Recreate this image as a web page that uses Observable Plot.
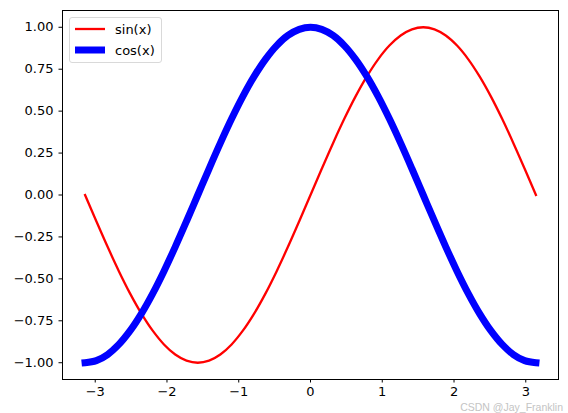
<!DOCTYPE html>
<html>
<head>
<meta charset="utf-8">
<script src="https://cdn.jsdelivr.net/npm/d3@7"></script>
<script src="https://cdn.jsdelivr.net/npm/@observablehq/plot@0.6"></script>
<style>
  html, body { margin: 0; padding: 0; background: #fff; }
  #wrap { position: relative; width: 568px; height: 413px; font-family: "DejaVu Sans", sans-serif; }
  #legend { position: absolute; left: 69px; top: 17px; width: 93px; height: 46px; border: 1px solid #d9d9d9; border-radius: 3px; background: rgba(255,255,255,0.8); box-sizing: border-box; font-size: 13px; color: #000; }
  .row { position: absolute; left: 0; display: flex; align-items: center; height: 16px; }
  .row svg { margin-left: 3px; }
  .row span { margin-left: 8px; }
  #wm { position: absolute; right: 5px; top: 402px; font-size: 10.5px; line-height: 1; color: #c4c4c4; font-family: "Liberation Sans", Arial, sans-serif; }
</style>
</head>
<body>
<div id="wrap"></div>
<script>
const xs = [-3.1416,-2.9845,-2.8274,-2.6704,-2.5133,-2.3562,-2.1991,-2.0420,-1.8850,-1.7279,-1.5708,-1.4137,-1.2566,-1.0996,-0.9425,-0.7854,-0.6283,-0.4712,-0.3142,-0.1571,0,0.1571,0.3142,0.4712,0.6283,0.7854,0.9425,1.0996,1.2566,1.4137,1.5708,1.7279,1.8850,2.0420,2.1991,2.3562,2.5133,2.6704,2.8274,2.9845,3.1416];
const sinValues = [0,-0.1564,-0.3090,-0.4540,-0.5878,-0.7071,-0.8090,-0.8910,-0.9511,-0.9877,-1,-0.9877,-0.9511,-0.8910,-0.8090,-0.7071,-0.5878,-0.4540,-0.3090,-0.1564,0,0.1564,0.3090,0.4540,0.5878,0.7071,0.8090,0.8910,0.9511,0.9877,1,0.9877,0.9511,0.8910,0.8090,0.7071,0.5878,0.4540,0.3090,0.1564,0];
const cosValues = [-1,-0.9877,-0.9511,-0.8910,-0.8090,-0.7071,-0.5878,-0.4540,-0.3090,-0.1564,0,0.1564,0.3090,0.4540,0.5878,0.7071,0.8090,0.8910,0.9511,0.9877,1,0.9877,0.9511,0.8910,0.8090,0.7071,0.5878,0.4540,0.3090,0.1564,0,-0.1564,-0.3090,-0.4540,-0.5878,-0.7071,-0.8090,-0.8910,-0.9511,-0.9877,-1];
const xTicks = [-3,-2,-1,0,1,2,3];
const yTicks = [-1,-0.75,-0.5,-0.25,0,0.25,0.5,0.75,1];
const seriesNames = ["sin(x)","cos(x)"];

const sinData = xs.map((x,i) => ({x, y: sinValues[i]}));
const cosData = xs.map((x,i) => ({x, y: cosValues[i]}));

const chart = Plot.plot({
  width: 568,
  height: 413,
  marginLeft: 62,
  marginRight: 10,
  marginTop: 10,
  marginBottom: 34,
  style: { fontFamily: "DejaVu Sans, sans-serif", fontSize: "13px", color: "#000", background: "#fff", overflow: "visible" },
  x: { domain: [-3.456, 3.456], ticks: xTicks, tickFormat: d3.format("d"), label: null, tickSize: 3.5, tickPadding: 4 },
  y: { domain: [-1.1, 1.1], ticks: yTicks, tickFormat: d3.format(".2f"), label: null, tickSize: 3.5, tickPadding: 5.5 },
  marks: [
    Plot.line(sinData, {x: "x", y: "y", stroke: "#ff0000", strokeWidth: 2.3, curve: "catmull-rom", strokeLinecap: "square"}),
    Plot.line(cosData, {x: "x", y: "y", stroke: "#0000ff", strokeWidth: 7, curve: "catmull-rom", strokeLinecap: "square"}),
    Plot.frame({stroke: "#000", strokeWidth: 1})
  ]
});
const wrap = document.getElementById("wrap");
wrap.appendChild(chart);

const legend = document.createElement("div");
legend.id = "legend";
legend.innerHTML = `
  <div class="row" style="top:3px"><svg width="34" height="10"><line x1="2" y1="5" x2="32" y2="5" stroke="#ff0000" stroke-width="2.3"/></svg><span>${seriesNames[0]}</span></div>
  <div class="row" style="top:24px"><svg width="34" height="10"><line x1="2" y1="5" x2="32" y2="5" stroke="#0000ff" stroke-width="7"/></svg><span>${seriesNames[1]}</span></div>`;
wrap.appendChild(legend);

const wm = document.createElement("div");
wm.id = "wm";
wm.textContent = "CSDN @Jay_Franklin";
wrap.appendChild(wm);
</script>
</body>
</html>
